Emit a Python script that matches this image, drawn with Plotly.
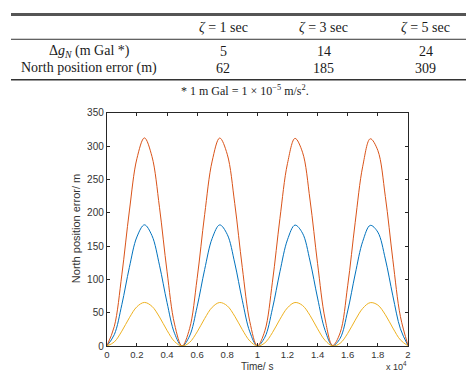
import plotly.graph_objects as go

# ---- table data ----
col_headers = ["<i>ζ</i> = 1 sec", "<i>ζ</i> = 3 sec", "<i>ζ</i> = 5 sec"]
row_labels = ["Δ<i>g</i><sub><i>N</i></sub> (m Gal *)", "North position error (m)"]
delta_g = ["5", "14", "24"]
north_err = ["62", "185", "309"]
footnote = "* 1 m Gal = 1 × 10<sup>−5</sup> m/s<sup>2</sup>."

# ---- chart data (time in s, error in m) ----
time_s = list(range(0, 20001, 500))
err_zeta5 = [0, 29.5, 106.9, 202.8, 281.3, 312.5, 284.8, 208.4, 112.4, 33.0, 0.1,
             26.2, 101.3, 197.3, 277.7, 312.3, 288.0, 213.9, 118.1, 36.7, 0.4,
             23.0, 95.9, 191.6, 273.9, 311.8, 291.0, 219.3, 123.8, 40.6, 1.0,
             20.0, 90.5, 185.8, 270.0, 311.2, 293.8, 224.7, 129.5, 44.6, 1.8]
err_zeta3 = [0, 17.2, 62.2, 118.1, 163.8, 182.0, 165.9, 121.4, 65.5, 19.2, 0.1,
             15.2, 59.0, 114.9, 161.7, 181.9, 167.7, 124.6, 68.8, 21.4, 0.3,
             13.4, 55.9, 111.6, 159.5, 181.6, 169.5, 127.7, 72.1, 23.6, 0.6,
             11.7, 52.7, 108.2, 157.2, 181.2, 171.1, 130.8, 75.4, 26.0, 1.0]
err_zeta1 = [0, 6.2, 22.4, 42.5, 59.0, 65.5, 59.7, 43.7, 23.6, 6.9, 0.0,
             5.5, 21.2, 41.3, 58.2, 65.4, 60.4, 44.8, 24.8, 7.7, 0.1,
             4.8, 20.1, 40.2, 57.4, 65.4, 61.0, 46.0, 25.9, 8.5, 0.2,
             4.2, 19.0, 38.9, 56.6, 65.2, 61.6, 47.1, 27.1, 9.3, 0.4]
x_tickvals = [0, 2000, 4000, 6000, 8000, 10000, 12000, 14000, 16000, 18000, 20000]
x_ticktext = ["0", "0.2", "0.4", "0.6", "0.8", "1", "1.2", "1.4", "1.6", "1.8", "2"]
y_tickvals = [0, 50, 100, 150, 200, 250, 300, 350]

W, H = 474, 371
def py(px):
    return 1 - px / H

fig = go.Figure()
for ys, col in [(err_zeta3, "#0072BD"), (err_zeta5, "#D95319"), (err_zeta1, "#EDB120")]:
    fig.add_trace(go.Scatter(x=time_s, y=ys, mode="lines",
                             line=dict(color=col, width=1, shape="spline", smoothing=1.0),
                             showlegend=False, hoverinfo="skip"))

serif = "Liberation Serif, DejaVu Serif, serif"
sans = "Liberation Sans, Arial, sans-serif"
ann = []
col_x = [215, 317, 420]
for i, h in enumerate(col_headers):
    ann.append(dict(x=col_x[i] / W, y=py(15), text=h))
ann.append(dict(x=80 / W, y=py(40), text=row_labels[0]))
ann.append(dict(x=79 / W, y=py(57), text=row_labels[1]))
for i in range(3):
    ann.append(dict(x=col_x[i] / W, y=py(40), text=delta_g[i]))
    ann.append(dict(x=col_x[i] / W, y=py(57), text=north_err[i]))
annotations = []
for a in ann:
    a.update(xref="paper", yref="paper", xanchor="center", yanchor="middle",
             showarrow=False, font=dict(family=serif, size=14, color="#1a1a1a"))
    annotations.append(a)
annotations.append(dict(x=237 / W, y=py(80), xref="paper", yref="paper", text=footnote,
                        xanchor="center", yanchor="middle", showarrow=False,
                        font=dict(family=serif, size=12, color="#1a1a1a")))
# axis labels
annotations.append(dict(x=249 / W, y=1.5 / H, xref="paper", yref="paper", text="Time/ s",
                        xanchor="center", yanchor="bottom", showarrow=False, borderpad=0,
                        font=dict(family=sans, size=10, color="#333")))
annotations.append(dict(x=66 / W, y=py(222), xref="paper", yref="paper",
                        text="North position error/ m", textangle=-90,
                        xanchor="center", yanchor="middle", showarrow=False,
                        font=dict(family=sans, size=11, color="#333")))
annotations.append(dict(x=402 / W, y=1.5 / H, xref="paper", yref="paper",
                        text="x 10<sup>4</sup>", xanchor="right", yanchor="bottom",
                        showarrow=False, borderpad=0,
                        font=dict(family=sans, size=9, color="#333")))

shapes = [
    dict(type="line", xref="paper", yref="paper", x0=0, x1=1, y0=py(1.5), y1=py(1.5),
         line=dict(color="#555", width=3)),
    dict(type="line", xref="paper", yref="paper", x0=0, x1=1, y0=py(27), y1=py(27),
         line=dict(color="#333", width=1)),
    dict(type="line", xref="paper", yref="paper", x0=0, x1=1, y0=py(68.5), y1=py(68.5),
         line=dict(color="#333", width=1.5)),
]

axis_common = dict(showline=True, linecolor="#262626", linewidth=1, mirror="ticks",
                   ticks="inside", ticklen=3, tickcolor="#262626", showgrid=False,
                   zeroline=False, tickfont=dict(family=sans, size=9.5, color="#333"))
fig.update_layout(
    width=W, height=H, margin=dict(l=0, r=0, t=0, b=0),
    paper_bgcolor="white", plot_bgcolor="white",
    xaxis=dict(domain=[97 / W, 402 / W], range=[0, 20000], tickvals=x_tickvals,
               ticktext=x_ticktext, ticklabelstandoff=0, **axis_common),
    yaxis=dict(domain=[py(342.3), py(102.7)], range=[0, 350], tickvals=y_tickvals,
               ticklabelstandoff=0, tickfont=dict(family=sans, size=10, color="#333"),
               **{k: v for k, v in axis_common.items() if k != "tickfont"}),
    annotations=annotations, shapes=shapes,
)
fig.write_html("out.html")
